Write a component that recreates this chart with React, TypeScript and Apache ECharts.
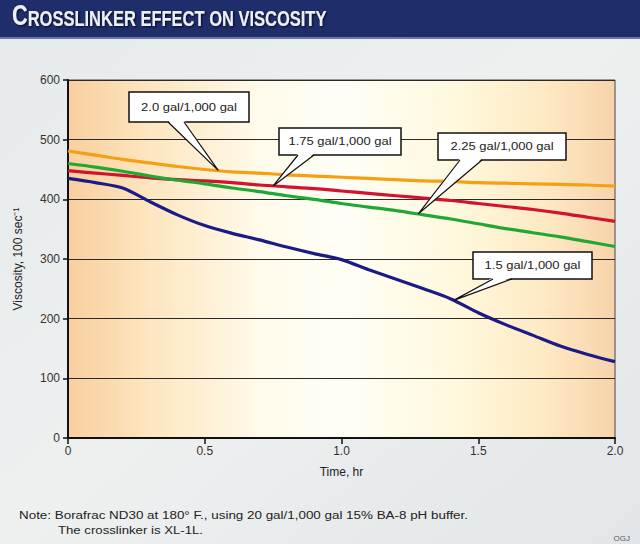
import React, { useEffect, useRef } from 'react';
import * as echarts from 'echarts';

// time, hr
const TIME = [0, 0.1, 0.2, 0.3, 0.4, 0.5, 0.6, 0.7, 0.8, 0.9, 1.0, 1.1, 1.2, 1.3, 1.4, 1.5, 1.6, 1.7, 1.8, 1.9, 2.0];

// viscosity, 100 sec-1, one list per crosslinker loading
const GAL_2_0 = [481, 474, 467, 461, 455, 450, 446, 444, 441, 439, 437, 435, 433, 431, 430, 428, 427, 426, 425, 424, 422];
const GAL_1_75 = [448, 444, 440, 436, 433, 431, 428, 424, 421, 418, 414, 410, 406, 402, 398, 393, 388, 383, 377, 370, 363];
const GAL_2_25 = [460, 454, 447, 439, 432, 426, 419, 413, 406, 400, 393, 387, 381, 374, 367, 359, 351, 344, 337, 329, 321];
const GAL_1_5 = [435, 428, 419, 396, 374, 356, 343, 332, 320, 309, 299, 282, 266, 250, 233, 210, 190, 172, 154, 140, 128];

const SERIES_NAMES = ['2.0 gal/1,000 gal', '1.75 gal/1,000 gal', '2.25 gal/1,000 gal', '1.5 gal/1,000 gal'];
const SERIES_VALUES = [GAL_2_0, GAL_1_75, GAL_2_25, GAL_1_5];
const SERIES_COLORS = ['#f4a012', '#d2122e', '#1fa833', '#1c1a86'];

const NOTE_LINES = [
  'Note: Borafrac ND30 at 180° F., using 20 gal/1,000 gal 15% BA-8 pH buffer.',
  'The crosslinker is XL-1L.'
];

// callout boxes: which series they point at, the time of the tip, and the box in pixels
const CALLOUTS = [
  { series: 0, at: 0.55, box: [129, 92, 120, 30], base: [168, 184] },
  { series: 1, at: 0.75, box: [279, 128, 122, 27], base: [298, 314] },
  { series: 2, at: 1.28, box: [438, 133, 128, 27], base: [460, 482] },
  { series: 3, at: 1.41, box: [473, 252, 119, 27], base: [493, 512] }
];

const FONT = '"Liberation Sans", Arial, sans-serif';
const TITLE_FONT = '"Liberation Sans", Arial, sans-serif';

const valueAt = (values: number[], t: number) => {
  for (let i = 0; i < TIME.length - 1; i++) {
    if (t >= TIME[i] && t <= TIME[i + 1]) {
      const f = (t - TIME[i]) / (TIME[i + 1] - TIME[i]);
      return values[i] + f * (values[i + 1] - values[i]);
    }
  }
  return values[values.length - 1];
};

const App: React.FC = () => {
  const chartRef = useRef<HTMLDivElement>(null);

  useEffect(() => {
    if (!chartRef.current) return;
    const chart = echarts.init(chartRef.current, null, { renderer: 'svg' });

    const option: any = {
      animation: false,
      backgroundColor: new echarts.graphic.LinearGradient(0, 0, 1, 1, [
        { offset: 0, color: '#e6eaec' },
        { offset: 0.5, color: '#eef0f0' },
        { offset: 1, color: '#e2e6e8' }
      ]),
      grid: {
        left: 68,
        top: 80,
        width: 547,
        height: 358,
        show: true,
        borderColor: '#444',
        borderWidth: 1,
        backgroundColor: new echarts.graphic.LinearGradient(0, 0, 1, 0, [
          { offset: 0, color: '#f9cf9e' },
          { offset: 0.15, color: '#fde6c0' },
          { offset: 0.35, color: '#fffaea' },
          { offset: 0.5, color: '#fffef6' },
          { offset: 0.72, color: '#fff8dc' },
          { offset: 0.88, color: '#fde8c2' },
          { offset: 1, color: '#f8d3ab' }
        ])
      },
      xAxis: {
        type: 'value',
        min: 0,
        max: 2,
        interval: 0.5,
        name: 'Time, hr',
        nameLocation: 'middle',
        nameGap: 28,
        nameTextStyle: { color: '#222', fontSize: 12, fontFamily: FONT },
        axisLine: { lineStyle: { color: '#111', width: 2 } },
        axisTick: { length: 6, lineStyle: { color: '#111', width: 1.5 } },
        axisLabel: {
          color: '#333',
          fontSize: 12,
          fontFamily: FONT,
          margin: 7,
          formatter: (v: number) => (v === 0 ? '0' : v.toFixed(1))
        },
        splitLine: { show: false }
      },
      yAxis: {
        type: 'value',
        min: 0,
        max: 600,
        interval: 100,
        name: 'Viscosity, 100 sec⁻¹',
        nameLocation: 'middle',
        nameGap: 44,
        nameTextStyle: { color: '#222', fontSize: 12, fontFamily: FONT },
        axisLine: { show: true, lineStyle: { color: '#111', width: 2 } },
        axisTick: { show: true, length: 5, lineStyle: { color: '#111', width: 1.5 } },
        axisLabel: { color: '#333', fontSize: 12, fontFamily: FONT, margin: 8 },
        splitLine: { lineStyle: { color: '#2a2a2a', width: 1 } }
      },
      series: SERIES_NAMES.map((name, i) => ({
        name,
        type: 'line',
        smooth: 0.3,
        symbol: 'none',
        data: TIME.map((t, j) => [t, SERIES_VALUES[i][j]]),
        lineStyle: { color: SERIES_COLORS[i], width: 3.2 },
        z: 3 + i
      }))
    };

    chart.setOption(option);

    const graphics: any[] = [
      {
        type: 'rect',
        shape: { x: 0, y: 0, width: 640, height: 37 },
        style: { fill: '#1f2e6b' },
        z: 10
      },
      {
        type: 'rect',
        shape: { x: 0, y: 37, width: 640, height: 2 },
        style: { fill: '#6877a8' },
        z: 10
      },
      {
        type: 'text',
        x: 12,
        y: 29,
        scaleX: 0.75,
        z: 11,
        style: {
          text: '{big|C}{small|ROSSLINKER EFFECT ON VISCOSITY}',
          verticalAlign: 'bottom',
          rich: {
            big: {
              fontSize: 29,
              lineHeight: 29,
              fontWeight: 'bold',
              fontFamily: TITLE_FONT,
              fill: '#eceff5',
              verticalAlign: 'bottom'
            },
            small: {
              fontSize: 22,
              lineHeight: 22,
              fontWeight: 'bold',
              fontFamily: TITLE_FONT,
              fill: '#eceff5',
              verticalAlign: 'bottom'
            }
          },
          textShadowColor: 'rgba(0,0,20,0.9)',
          textShadowBlur: 2,
          textShadowOffsetX: 1,
          textShadowOffsetY: 1
        }
      },
      {
        type: 'text',
        x: 19,
        y: 515,
        scaleX: 1.22,
        z: 11,
        style: { text: NOTE_LINES[0], fill: '#222', fontSize: 11, fontFamily: FONT, verticalAlign: 'middle' }
      },
      {
        type: 'text',
        x: 58,
        y: 530,
        scaleX: 1.2,
        z: 11,
        style: { text: NOTE_LINES[1], fill: '#222', fontSize: 11, fontFamily: FONT, verticalAlign: 'middle' }
      },
      {
        type: 'text',
        x: 630,
        y: 538,
        z: 11,
        style: { text: 'OGJ', fill: '#555', fontSize: 8, fontFamily: FONT, align: 'right', verticalAlign: 'middle' }
      }
    ];

    CALLOUTS.forEach((c) => {
      const v = valueAt(SERIES_VALUES[c.series], c.at);
      const tip = chart.convertToPixel({ xAxisIndex: 0, yAxisIndex: 0 }, [c.at, v]) as number[];
      const [bx, by, bw, bh] = c.box;
      const bottom = by + bh;
      graphics.push(
        {
          type: 'rect',
          z: 20,
          shape: { x: bx, y: by, width: bw, height: bh },
          style: { fill: '#fff', stroke: '#111', lineWidth: 1.5 }
        },
        {
          type: 'polygon',
          z: 21,
          shape: { points: [[c.base[0], bottom - 1.5], [tip[0], tip[1]], [c.base[1], bottom - 1.5]] },
          style: { fill: '#fff' }
        },
        {
          type: 'polyline',
          z: 22,
          shape: { points: [[c.base[0], bottom], [tip[0], tip[1]], [c.base[1], bottom]] },
          style: { stroke: '#111', lineWidth: 1.2, fill: 'none' }
        },
        {
          type: 'text',
          z: 23,
          x: bx + bw / 2,
          y: by + bh / 2,
          scaleX: 1.18,
          style: {
            text: SERIES_NAMES[c.series],
            fill: '#222',
            fontSize: 11,
            fontFamily: FONT,
            align: 'center',
            verticalAlign: 'middle'
          }
        }
      );
    });

    chart.setOption({ graphic: graphics });

    return () => {
      chart.dispose();
    };
  }, []);

  return (
    <div style={{ position: 'fixed', left: 0, top: 0, width: 640, height: 544 }}>
      <div ref={chartRef} style={{ width: '100%', height: '100%' }} />
    </div>
  );
};

export default App;
